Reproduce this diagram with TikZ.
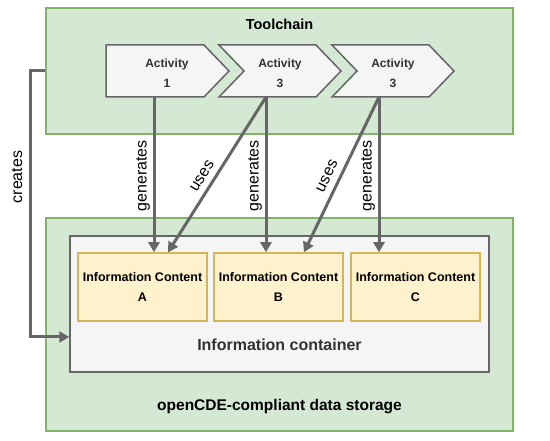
\documentclass[tikz,border=0pt]{standalone}
\usepackage{fontspec}
\setmainfont{Liberation Sans}
\usetikzlibrary{arrows.meta}
\definecolor{gfill}{HTML}{D5E8D4}
\definecolor{gline}{HTML}{82B366}
\definecolor{yfill}{HTML}{FFF2CC}
\definecolor{yline}{HTML}{D6B656}
\definecolor{sfill}{HTML}{F5F5F5}
\definecolor{sline}{HTML}{666666}
\definecolor{txt}{HTML}{333333}
\tikzset{
  greenbox/.style={draw=gline, fill=gfill, line width=1.5pt, inner sep=0pt},
  contbox/.style={draw=sline, fill=sfill, line width=1.5pt, inner sep=0pt},
  infobox/.style={draw=yline, fill=yfill, line width=1.5pt, inner sep=0pt, minimum width=129pt, minimum height=68pt},
  chev/.style={draw=sline, fill=sfill, line width=1.5pt, line join=miter},
  acttext/.style={font=\bfseries\fontsize{12}{20}\selectfont, text=txt, align=center},
  infotext/.style={font=\bfseries\fontsize{12.5}{20}\selectfont, text=black, align=center},
  lbl/.style={font=\fontsize{16}{18}\selectfont, text=black, inner sep=0pt},
  arr/.style={draw=sline, line width=3pt, -{Triangle[length=10pt,width=11pt]}},
  plain/.style={draw=sline, line width=3pt},
}
\begin{document}
\begin{tikzpicture}[x=1pt,y=-1pt]
\useasboundingbox (0,0) rectangle (550,441);
% Toolchain
\node[greenbox, minimum width=467pt, minimum height=126pt] (tool) at (279.5,71) {};
\node[font=\bfseries\fontsize{14.5}{16}\selectfont] (tooltitle) at (279.5,24) {Toolchain};
% chevrons
\draw[chev] (106,45) -- (204,45) -- (229,71) -- (204,97) -- (106,97) -- cycle;
\draw[chev] (219,45) -- (316,45) -- (341,71) -- (316,97) -- (219,97) -- (244,71) -- cycle;
\draw[chev] (332,45) -- (429,45) -- (454,71) -- (429,97) -- (332,97) -- (357,71) -- cycle;
\node[acttext] (a1) at (167,73) {Activity\\1};
\node[acttext] (a2) at (280,73) {Activity\\3};
\node[acttext] (a3) at (393,73) {Activity\\3};
\coordinate (a1b) at (154,97);
\coordinate (a2b) at (266,97);
\coordinate (a3b) at (379,97);
% Storage
\node[greenbox, minimum width=467pt, minimum height=213pt] (store) at (279.5,324.5) {};
\node[font=\bfseries\fontsize{15.5}{18}\selectfont] (storetitle) at (279.5,407) {openCDE-compliant data storage};
\node[contbox, minimum width=419pt, minimum height=136pt] (cont) at (279.5,304) {};
\node[font=\bfseries\fontsize{16}{18}\selectfont, text=txt] (conttitle) at (279.5,345) {Information container};
\node[infobox] (ca) at (142.5,287) {};
\node[infobox] (cb) at (278.5,287) {};
\node[infobox] (cc) at (415.5,287) {};
\node[infotext] (ta) at (ca) {Information Content\\A};
\node[infotext] (tb) at (cb) {Information Content\\B};
\node[infotext] (tc) at (cc) {Information Content\\C};
% connectors
\draw[arr] (a1b) -- (a1b |- ca.north);
\draw[arr] (a2b) -- (a2b |- cb.north);
\draw[arr] (a3b) -- (a3b |- cc.north);
\draw[arr] (a2b) -- ([xshift=25.5pt]ca.north);
\draw[arr] (a3b) -- ([xshift=25.5pt]cb.north);
\draw[arr] (tool.west) -- (30,71) |- ([yshift=-33pt]cont.west);
% labels
\node[lbl, rotate=90] (g1) at (143,176) {generates};
\node[lbl, rotate=90] (g2) at (255,176) {generates};
\node[lbl, rotate=90] (g3) at (368,176) {generates};
\node[lbl, rotate=57.7] (u1) at (202,176) {uses};
\node[lbl, rotate=64] (u2) at (327,176) {uses};
\node[lbl, rotate=90] (cr) at (17,177) {creates};
\end{tikzpicture}
\end{document}
